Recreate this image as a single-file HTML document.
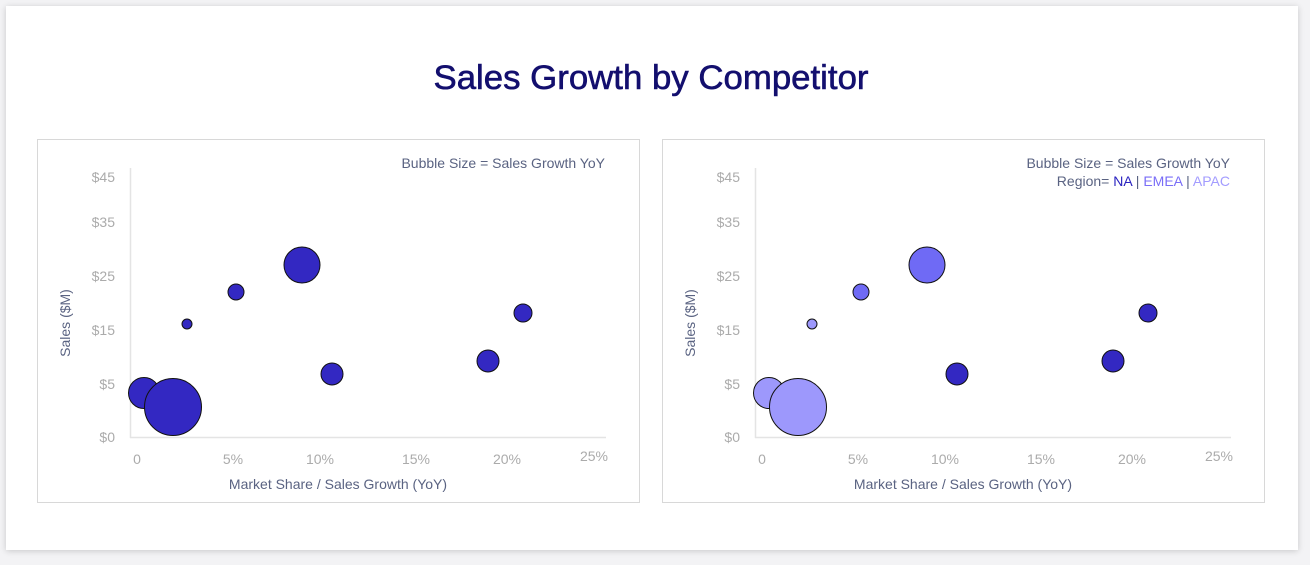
<!DOCTYPE html>
<html><head><meta charset="utf-8"><style>
body{margin:0;width:1310px;height:565px;background:#f3f3f5;overflow:hidden;font-family:"Liberation Sans",sans-serif}
.card{position:absolute;left:6px;top:6px;width:1292px;height:544px;background:#fff;box-shadow:0 1px 6px rgba(0,0,0,0.18)}
</style></head><body>
<div class="card"></div>
<svg width="1310" height="565" style="position:absolute;left:0;top:0" font-family="Liberation Sans, sans-serif">
<text x="651" y="89" text-anchor="middle" font-size="34" fill="#130f6e" stroke="#130f6e" stroke-width="0.6" textLength="435" lengthAdjust="spacingAndGlyphs">Sales Growth by Competitor</text>
<g id="p">
<rect x="37.5" y="139.5" width="602" height="363" fill="none" stroke="#d8d8d8"/>
<line x1="130.5" y1="168" x2="130.5" y2="438" stroke="#e4e4e4" stroke-width="1.5"/>
<line x1="130" y1="437.5" x2="606" y2="437.5" stroke="#e4e4e4" stroke-width="1.5"/>
<g font-size="14" fill="#ababab" text-anchor="end">
<text x="115" y="182">$45</text><text x="115" y="227">$35</text><text x="115" y="281">$25</text>
<text x="115" y="335">$15</text><text x="115" y="389">$5</text><text x="115" y="442">$0</text></g>
<g font-size="14" fill="#ababab" text-anchor="middle">
<text x="137" y="464">0</text><text x="233" y="464">5%</text><text x="320" y="464">10%</text>
<text x="416" y="464">15%</text><text x="507" y="464">20%</text><text x="594" y="461">25%</text></g>
<text x="338" y="489" text-anchor="middle" font-size="14" fill="#5a6382">Market Share / Sales Growth (YoY)</text>
<text transform="translate(70,323) rotate(-90)" text-anchor="middle" font-size="14" fill="#5a6382">Sales ($M)</text>
</g>
<use href="#p" x="625"/>
<text x="605" y="168" text-anchor="end" font-size="14" fill="#5a6382">Bubble Size = Sales Growth YoY</text>
<text x="1230" y="168" text-anchor="end" font-size="14" fill="#5a6382">Bubble Size = Sales Growth YoY</text>
<text x="1230" y="186" text-anchor="end" font-size="14" fill="#5a6382">Region= <tspan fill="#2a22c0">NA</tspan> | <tspan fill="#7a6ef7">EMEA</tspan> | <tspan fill="#a39cff">APAC</tspan></text>
<g stroke="#111" stroke-width="1" fill="#3328c2">
<circle cx="144" cy="393" r="15.5"/><circle cx="173" cy="407" r="28.5"/><circle cx="187" cy="324" r="5"/>
<circle cx="236" cy="292" r="8"/><circle cx="302" cy="265" r="18"/><circle cx="332" cy="374" r="11"/>
<circle cx="488" cy="361" r="11"/><circle cx="523" cy="313" r="9"/>
</g>
<g stroke="#111" stroke-width="1">
<circle cx="769" cy="393" r="15.5" fill="#9d98fc"/><circle cx="798" cy="407" r="28.5" fill="#9d98fc"/><circle cx="812" cy="324" r="5" fill="#9d98fc"/>
<circle cx="861" cy="292" r="8" fill="#6f6af5"/><circle cx="927" cy="265" r="18" fill="#6f6af5"/><circle cx="957" cy="374" r="11" fill="#3328c2"/>
<circle cx="1113" cy="361" r="11" fill="#3328c2"/><circle cx="1148" cy="313" r="9" fill="#3328c2"/>
</g>
</svg>
</body></html>
